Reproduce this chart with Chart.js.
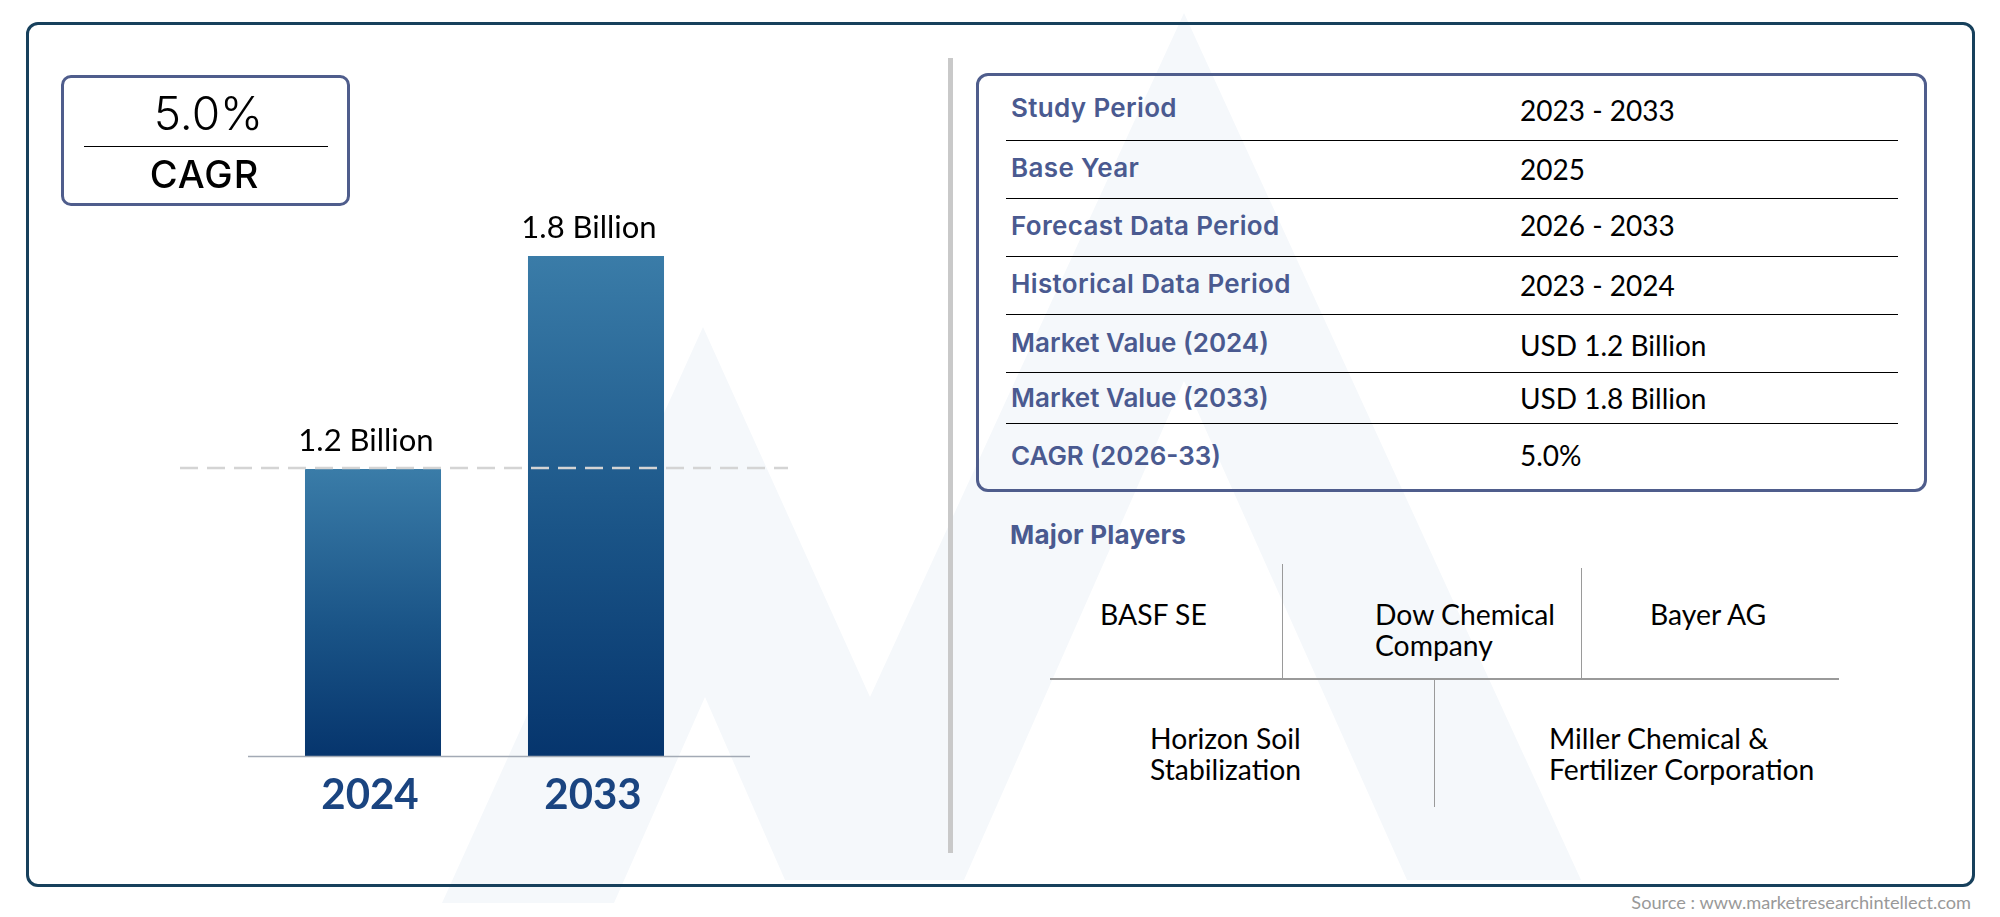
<!DOCTYPE html>
<html lang="en">
<head>
<meta charset="UTF-8">
<title>Market Size Chart</title>
<script src="https://cdn.jsdelivr.net/npm/chart.js"></script>
<style>
    html, body { margin: 0; padding: 0; background: #ffffff; }
    body { width: 2000px; height: 917px; position: relative; overflow: hidden; font-family: "Lato", sans-serif; color: #000; }
    #mark { position: absolute; left: 0; top: 0; }
    #frame { position: absolute; left: 26px; top: 22px; width: 1943px; height: 859px; border: 3px solid #17405c; border-radius: 12px; }
    #chart { position: absolute; left: 0; top: 0; }
    #cagrBox { position: absolute; left: 61px; top: 75px; width: 283px; height: 125px; border: 3px solid #4f5d8c; border-radius: 10px; }
    #cagrValue { position: absolute; left: 64px; width: 289px; top: 84px; text-align: center; font: 350 46px/58px "Inter", sans-serif; }
    #cagrRule { position: absolute; left: 84px; top: 146px; width: 244px; height: 1px; background: #000; }
    #cagrName { position: absolute; left: 60px; width: 289px; top: 152px; text-align: center; font: 500 38px/44px "Inter", sans-serif; letter-spacing: 1px; }
    #divider { position: absolute; left: 948px; top: 58px; width: 5px; height: 795px; background: #c9c9c9; }
    #tableBox { position: absolute; left: 976px; top: 73px; width: 945px; height: 413px; border: 3px solid #4f5d8c; border-radius: 12px; }
    .rowLabel, .rowValue, .player, #playersTitle, #source { position: absolute; white-space: nowrap; }
    .rowLabel { left: 1011px; font: 600 26px/30px "Inter", sans-serif; letter-spacing: 0.35px; color: #4a5a90; }
    .rowValue { left: 1520px; font: 400 28px/36px "Lato", sans-serif; }
    .rule { position: absolute; background: #000; height: 1px; left: 1006px; width: 892px; }
    #playersTitle { left: 1010px; top: 520px; font: 700 26px/30px "Inter", sans-serif; letter-spacing: 0.2px; color: #4a5a90; }
    .player { font: 400 28.3px/31px "Lato", sans-serif; }
    .sep { position: absolute; background: #9a9a9a; }
    #source { right: 29px; top: 891px; font: 400 18.2px/22px "Lato", sans-serif; color: #999; }
</style>
</head>
<body>
<svg id="mark" width="2000" height="917">
    <polygon fill="#f5f8fb" points="442,903 703,327 870,697 1184,13 1581,880 1407,880 1184,381 964,880 785,880 705,697 614,903"/>
</svg>
<div id="frame"></div>
<canvas id="chart" width="960" height="917"></canvas>

<div id="cagrBox"></div>
<div id="cagrValue">5.0%</div>
<div id="cagrRule"></div>
<div id="cagrName">CAGR</div>
<div id="divider"></div>
<div id="tableBox"></div>
<div id="playersTitle">Major Players</div>
<div class="sep" style="left:1282px;top:564px;width:1px;height:114px"></div>
<div class="sep" style="left:1581px;top:568px;width:1px;height:110px"></div>
<div class="sep" style="left:1050px;top:678px;width:789px;height:2px"></div>
<div class="sep" style="left:1434px;top:680px;width:1px;height:127px"></div>
<div id="source">Source : www.marketresearchintellect.com</div>

<script>
    const categories = ["2024", "2033"];
    const values = [1.2, 1.8];
    const unit = "Billion";

    const tableLabels = ["Study Period", "Base Year", "Forecast Data Period", "Historical Data Period", "Market Value (2024)", "Market Value (2033)", "CAGR (2026-33)"];
    const tableValues = ["2023 - 2033", "2025", "2026 - 2033", "2023 - 2024", "USD 1.2 Billion", "USD 1.8 Billion", "5.0%"];
    const players = ["BASF SE", "Dow Chemical\nCompany", "Bayer AG", "Horizon Soil\nStabilization", "Miller Chemical &\nFertilizer Corporation"];

    // page positions of the html parts
    const labelY = [108, 168, 226, 284, 343, 398, 456];
    const valueY = [110, 169, 225, 285, 345, 398, 455];
    const ruleY = [140, 198, 256, 314, 372, 423];
    const playerPos = [[1100, 599], [1375, 599], [1650, 599], [1150, 723], [1549, 723]];

    function addDiv(cls, text, left, top) {
        const d = document.createElement("div");
        d.className = cls;
        d.textContent = text;
        if (left !== null) d.style.left = left + "px";
        d.style.top = top + "px";
        document.body.appendChild(d);
        return d;
    }

    tableLabels.forEach((t, i) => {
        const d = addDiv("rowLabel", t, null, labelY[i] - 15);
        // Inter digits run wide
        if (/\d/.test(t)) d.style.letterSpacing = "0";
    });
    tableValues.forEach((t, i) => addDiv("rowValue", t, null, valueY[i] - 18));
    ruleY.forEach(y => addDiv("rule", "", null, y));
    players.forEach((t, i) => {
        t.split("\n").forEach((line, j) => {
            addDiv("player", line, playerPos[i][0], playerPos[i][1] + j * 31);
        });
    });

    // the bars in the picture are not drawn from zero
    const axisMin = 0.392;

    const barGradient = (context) => {
        const chart = context.chart;
        if (!chart.chartArea || context.raw === undefined) return "#1d5a8c";
        const y = chart.scales.y;
        const g = chart.ctx.createLinearGradient(0, y.getPixelForValue(context.raw), 0, chart.chartArea.bottom);
        g.addColorStop(0, "#3a7ca8");
        g.addColorStop(0.55, "#1a5487");
        g.addColorStop(1, "#06356d");
        return g;
    };

    const decorations = {
        id: "decorations",
        afterDatasetsDraw(chart) {
            const ctx = chart.ctx;
            const y = chart.scales.y;
            const bars = chart.getDatasetMeta(0).data;

            ctx.save();
            // base line
            ctx.strokeStyle = "#a3aab5";
            ctx.lineWidth = 1.5;
            ctx.beginPath();
            ctx.moveTo(248, y.bottom + 0.5);
            ctx.lineTo(750, y.bottom + 0.5);
            ctx.stroke();

            // dashed line at the 2024 level
            const refY = y.getPixelForValue(values[0]) - 1;
            ctx.strokeStyle = "#d4d4d4";
            ctx.lineWidth = 2.5;
            ctx.setLineDash([18, 9]);
            ctx.beginPath();
            ctx.moveTo(180, refY);
            ctx.lineTo(788, refY);
            ctx.stroke();
            ctx.setLineDash([]);

            // value labels
            ctx.fillStyle = "#000";
            ctx.font = '400 31px "Lato", sans-serif';
            ctx.textAlign = "center";
            ctx.textBaseline = "middle";
            bars.forEach((bar, i) => {
                ctx.fillText(values[i] + " " + unit, bar.x - 7, bar.y - 28);
            });
            ctx.restore();
        }
    };

    new Chart(document.getElementById("chart").getContext("2d"), {
        type: "bar",
        data: {
            labels: categories,
            datasets: [{
                data: values,
                backgroundColor: barGradient,
                borderWidth: 0,
                barPercentage: 1,
                categoryPercentage: 0.61,
            }],
        },
        options: {
            responsive: false,
            animation: false,
            layout: { padding: { left: 261.5, right: 252.5, top: 256, bottom: 0 } },
            plugins: { legend: { display: false }, tooltip: { enabled: false } },
            scales: {
                x: {
                    grid: { display: false },
                    border: { display: false },
                    afterFit(axis) { axis.height = 161; },
                    ticks: {
                        padding: 6,
                        labelOffset: -3,
                        color: "#1a4480",
                        font: { family: "Lato", size: 42, weight: "bold" },
                    },
                },
                y: { display: false, min: axisMin, max: values[1] },
            },
        },
        plugins: [decorations],
    });
</script>
</body>
</html>
